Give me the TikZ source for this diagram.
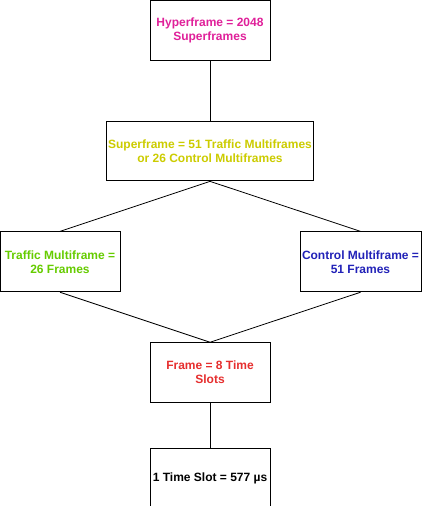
\documentclass[tikz,border=0pt]{standalone}
\usepackage{fontspec}
\setmainfont{Liberation Sans}
\usepackage{tikz}
\usetikzlibrary{positioning}
\usepackage{xcolor}
\definecolor{hypc}{HTML}{E0209A}
\definecolor{supc}{HTML}{CCCC00}
\definecolor{trafc}{HTML}{66CC00}
\definecolor{ctrlc}{HTML}{2222B8}
\definecolor{framec}{HTML}{E62E2E}

\begin{document}
\begin{tikzpicture}[
  font=\fontsize{12}{14}\selectfont\bfseries,
  box/.style={draw, line width=0.9pt, align=center, minimum width=120pt, minimum height=60pt, inner sep=2pt},
  link/.style={draw, line width=0.8pt}
]
\useasboundingbox[fill=white] (0pt,0pt) rectangle (421pt,-506pt);

\node[box, text=hypc] (hyper) at (210pt,-30pt) {Hyperframe = 2048\\Superframes};
\node[box, text=supc, minimum width=206pt, minimum height=59pt, below=61pt of hyper] (super) {Superframe = 51 Traffic Multiframes\\or 26 Control Multiframes};
\node[box, text=trafc, below=50pt of super, xshift=-150pt] (traffic) {Traffic Multiframe =\\26 Frames};
\node[box, text=ctrlc, below=50pt of super, xshift=150.5pt] (control) {Control Multiframe =\\51 Frames};
\node[box, text=framec, below=50pt of traffic, xshift=150pt] (frame) {Frame = 8 Time\\Slots};
\node[box, text=black, below=45pt of frame] (slot) {1 Time Slot = 577 µs};

\draw[link] (hyper) -- (super);
\draw[link] (super.south) -- (traffic.north);
\draw[link] (super.south) -- (control.north);
\draw[link] (traffic.south) -- (frame.north);
\draw[link] (control.south) -- (frame.north);
\draw[link] (frame) -- (slot);

\end{tikzpicture}
\end{document}
